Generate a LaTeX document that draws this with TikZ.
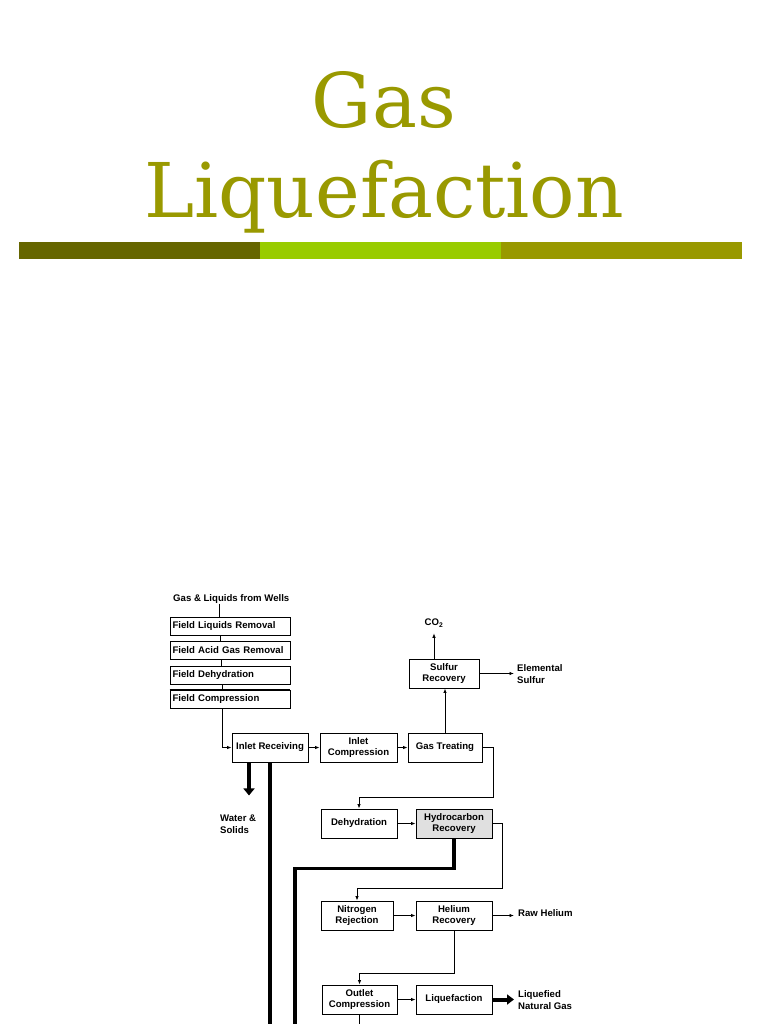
\documentclass[tikz,border=0pt]{standalone}
\usepackage{fontspec}
\usetikzlibrary{arrows.meta,calc}
\newfontfamily\titlefont{DejaVu Serif}
\newfontfamily\diagfont{Liberation Sans}
\definecolor{titleolive}{RGB}{153,153,0}
\definecolor{bardark}{RGB}{102,102,0}
\definecolor{barlight}{RGB}{153,204,0}
\definecolor{barmid}{RGB}{153,153,0}
\newcommand{\dfont}{\diagfont\bfseries\fontsize{9.6}{11.5}\selectfont}
\begin{document}
\begin{tikzpicture}[x=1pt,y=-1pt,>={Latex[length=4.5pt,width=3.5pt]},
  headline/.style={text=titleolive,font=\titlefont\fontsize{75.5}{90}\selectfont,anchor=base},
  field/.style={draw,line width=0.9pt,minimum height=18pt,text width=115pt,
    inner xsep=2.5pt,inner ysep=0pt,align=left,font=\dfont},
  unit/.style={draw,line width=0.9pt,minimum width=76pt,minimum height=29pt,
    inner sep=1pt,align=center,font=\dfont},
  lbl/.style={align=left,inner sep=0pt,anchor=west,font=\dfont},
  flow/.style={line width=0.8pt},
  heavy/.style={line width=3.6pt},
  bigarrow/.style={line width=4.5pt,-{Triangle[length=7pt,width=11pt]}}]
\useasboundingbox (0,0) rectangle (768,1024);

% title and bars
\node[headline] (t1) at (384,128) {Gas};
\node[headline] (t2) at (384,218) {Liquefaction};
\fill[bardark] (19,242) rectangle (260,259);
\fill[barlight] (260,242) rectangle (501,259);
\fill[barmid] (501,242) rectangle (742,259);

% field operations
\node[lbl] (wells) at (173,599) {Gas \& Liquids from Wells};
\node[field] (fl) at (230,626) {Field Liquids Removal};
\node[field] (fa) at (230,650.5) {Field Acid Gas Removal};
\node[field] (fd) at (230,675) {Field Dehydration};
\node[field] (fc) at (230,699) {Field Compression};
\draw[line width=1.6pt] (fc.north west) -- (fc.north east);
\draw[flow] ([xshift=-11pt]fl.north |- wells.south) -- ([xshift=-11pt]fl.north);
\draw[flow] ([xshift=-10pt]fl.south) -- ([xshift=-10pt]fa.north);
\draw[flow] ([xshift=-9pt]fa.south) -- ([xshift=-9pt]fd.north);
\draw[flow] ([xshift=-8pt]fd.south) -- ([xshift=-8pt]fc.north);

% plant units
\node[unit] (ir) at (270,747.5) {Inlet Receiving};
\node[unit,minimum width=77pt] (ic) at (358.5,747.5) {Inlet\\Compression};
\node[unit,minimum width=74pt] (gt) at (445,747.5) {Gas Treating};
\node[unit,minimum width=70pt] (sr) at (444,673.5) {Sulfur\\Recovery};
\node[lbl,anchor=center] (co2) at (434,623) {CO\textsubscript{2}};
\node[lbl] (es) at (517,674) {Elemental\\Sulfur};
\node[unit] (dh) at (359,823.5) {Dehydration};
\node[unit,fill=black!12] (hc) at (454,823.5) {Hydrocarbon\\Recovery};
\node[unit,minimum width=72pt] (nr) at (357,915.5) {Nitrogen\\Rejection};
\node[unit] (hr) at (454,915.5) {Helium\\Recovery};
\node[lbl] (rh) at (518,913) {Raw Helium};
\node[unit,minimum width=75pt] (oc) at (359.5,999.5) {Outlet\\Compression};
\node[unit] (lq) at (454,999.5) {Liquefaction};
\node[lbl] (lng) at (518,1000) {Liquefied\\Natural Gas};
\node[lbl] (ws) at (220,824) {Water \&\\Solids};
\coordinate (irout) at (270,1024);
\coordinate (ngl) at (295,1024);
\coordinate (ocout) at (359,1024);

% flows
\draw[flow,->] ([xshift=-8pt]fc.south) |- (ir.west);
\draw[flow,->] (ir) -- (ic);
\draw[flow,->] (ic) -- (gt);
\draw[flow,->] (gt.north) -- (gt.north |- sr.south);
\draw[flow,->] ([xshift=-10pt]sr.north) -- ([xshift=-10pt,yshift=-6pt]sr.north |- co2.south);
\draw[flow,->] (sr.east) -- ([xshift=-3pt]sr.east -| es.west);
\draw[flow,->] (gt.east) -- ++(11,0) |- ($(dh.north)+(0,-11)$) -- (dh.north);
\draw[flow,->] (dh) -- (hc);
\draw[flow,->] (hc.east) -- ++(10,0) |- ($(nr.north)+(0,-12)$) -- (nr.north);
\draw[flow,->] (nr) -- (hr);
\draw[flow,->] (hr.east) -- ([xshift=-4pt]hr.east -| rh.west);
\draw[flow,->] (hr.south) |- ($(oc.north)+(0,-11)$) -- (oc.north);
\draw[flow,->] (oc) -- (lq);
\draw[flow] (oc.south) -- (oc.south |- ocout);
\draw[heavy] (ir.south) -- (irout);
\draw[heavy] (hc.south) -- ++(0,30) -| (ngl);
\draw[bigarrow] ([xshift=-21pt]ir.south) -- ++(0,33);
\draw[line width=4pt,-{Triangle[length=7pt,width=10pt]}] (lq.east) -- ([xshift=-4pt]lq.east -| lng.west);
\end{tikzpicture}
\end{document}
